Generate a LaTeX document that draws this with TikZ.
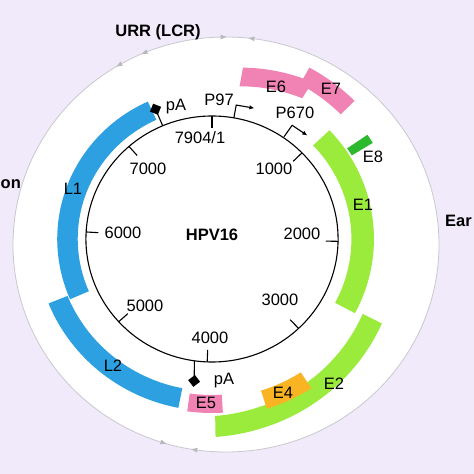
\documentclass[tikz,border=0pt]{standalone}
\usepackage{fontspec}
\setmainfont{Liberation Sans}
\usetikzlibrary{arrows.meta}
\definecolor{bg}{RGB}{240,234,250}
\definecolor{lblue}{RGB}{44,160,224}
\definecolor{lpink}{RGB}{240,130,180}
\definecolor{lgreen}{RGB}{155,235,60}
\definecolor{dgreen}{RGB}{45,185,45}
\definecolor{lorange}{RGB}{248,180,35}
\definecolor{rimgray}{RGB}{200,200,206}
\definecolor{tipgray}{RGB}{185,185,192}
% gene band: #1 start angle, #2 end angle, #3 inner radius at start, #4 inner radius at end, #5 width, #6 colour
\newcommand\gband[6]{%
  \fill[#6] plot[domain=#1:#2, samples=60] (\x:{#3+(#4-#3)*(\x-#1)/(#2-#1)})
    -- plot[domain=#2:#1, samples=60] (\x:{#3+(#4-#3)*(\x-#1)/(#2-#1)+#5}) -- cycle;}
\begin{document}
\begin{tikzpicture}[x=1pt,y=1pt,
  lbl/.style={font=\fontsize{16.5}{18}\selectfont, inner sep=0pt},
  boldlbl/.style={font=\fontsize{16.5}{18}\selectfont\bfseries, inner sep=0pt},
  tickline/.style={line width=1.1pt},
  prom/.style={line width=1.1pt, -{Latex[length=5pt,width=4.5pt]}},
  pad/.style={fill=black, draw=none, minimum size=8.5pt, inner sep=0pt, shape=rectangle}]
\useasboundingbox (0,0) rectangle (474,474);
\fill[bg] (0,0) rectangle (474,474);
% outer white disc with grey rim
\coordinate (D) at (226,229.5);
\fill[white] (D) ellipse [x radius=213, y radius=207.5];
\draw[rimgray, line width=0.8pt] (D) ellipse [x radius=213, y radius=207.5];
\foreach \p/\s in {112.4/1, 90.8/-1, 83/1, 120/1, 252.8/1, 261.6/-1} {
  \pgfmathsetmacro\px{226+213*cos(\p)}
  \pgfmathsetmacro\py{229.5+207.5*sin(\p)}
  \pgfmathsetmacro\ang{atan2(207.5*cos(\p), -213*sin(\p))+90*(1-\s)}
  \fill[tipgray, shift={(\px,\py)}, rotate=\ang] (3.5,0) -- (-2.5,2.4) -- (-2.5,-2.4) -- cycle;
}
% genome map
\begin{scope}[shift={(212,235)}, xscale=1.025]
  \gband{114.5}{203.5}{131}{131}{20}{lblue}   % L1
  \gband{202}{259}{152}{152}{20}{lblue}       % L2
  \gband{80}{58}{155}{166}{19}{lpink}         % E6
  \gband{61}{44.8}{177}{177}{19}{lpink}       % E7
  \gband{43.5}{-28}{136}{136}{22}{lgreen}     % E1
  \gband{31.5}{34.5}{160}{160}{24}{dgreen}    % E8
  \gband{-27}{-89}{165}{177}{21}{lgreen}      % E2
  \gband{-57}{-72.5}{159}{159}{19}{lorange}   % E4
  \gband{262}{273.5}{156}{156}{18}{lpink}     % E5
  \draw[line width=1.1pt] (0,0) circle (123);
  \foreach \n in {0,1,...,7}
    \draw[tickline] ({90-\n*1000/7904*360}:123) -- ({90-\n*1000/7904*360}:111);
  % promoters
  \coordinate (p97a) at (80:123);
  \coordinate (p97b) at (80:136);
  \draw[prom] (p97a) -- (p97b) -- ++(-10:18) coordinate (p97c);
  \coordinate (p670a) at (55.5:124);
  \coordinate (p670b) at (55.5:138);
  \draw[prom] (p670a) -- (p670b) -- ++(-34.5:18) coordinate (p670c);
  % polyadenylation sites
  \coordinate (pa1a) at (113:123);
  \node[pad, rotate=68] (pa1d) at (113:141) {};
  \draw[tickline] (pa1a) -- (pa1d.center);
  \coordinate (pa2a) at (262:123);
  \node[pad, rotate=37] (pa2d) at (263:143) {};
  \draw[tickline] (pa2a) -- (pa2d.center);
\end{scope}
% position labels
\node[lbl] (n0) at (200,336) {7904/1};
\node[lbl] (n1) at (274,305) {1000};
\node[lbl] (n2) at (302,240) {2000};
\node[lbl] (n3) at (280,174) {3000};
\node[lbl] (n4) at (210,136) {4000};
\node[lbl] (n5) at (145,168) {5000};
\node[lbl] (n6) at (123,241) {6000};
\node[lbl] (n7) at (148,305) {7000};
\node[boldlbl] (hpv) at (212,239) {HPV16};
\node[boldlbl] (urr) at (158,442) {URR (LCR)};
\node[boldlbl, anchor=west] (late) at (0.5,290) {on};
\node[boldlbl, anchor=west] (early) at (445,253) {Ear};
% element labels
\node[lbl] (pA1) at (176,367) {pA};
\node[lbl] (pA2) at (224,93) {pA};
\node[lbl] (P97) at (219,374) {P97};
\node[lbl] (P670) at (295,361) {P670};
\node[lbl] (L1) at (73,285) {L1};
\node[lbl] (L2) at (113,108) {L2};
\node[lbl] (E1) at (363,269) {E1};
\node[lbl] (E2) at (334,90) {E2};
\node[lbl] (E4) at (283,81) {E4};
\node[lbl] (E5) at (206,71) {E5};
\node[lbl] (E6) at (276,387) {E6};
\node[lbl] (E7) at (331,385) {E7};
\node[lbl] (E8) at (373,317) {E8};
\end{tikzpicture}
\end{document}
